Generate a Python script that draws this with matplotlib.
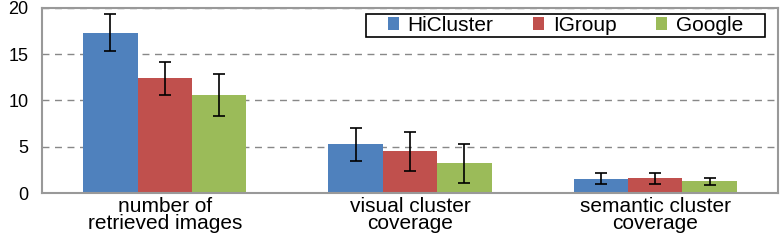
import numpy as np
import matplotlib.pyplot as plt
from matplotlib.patches import Rectangle

plt.rcParams['font.family'] = ['Liberation Sans', 'DejaVu Sans']

categories = ['number of\nretrieved images', 'visual cluster\ncoverage', 'semantic cluster\ncoverage']
series = ['HiCluster', 'IGroup', 'Google']
colors = ['#4F81BD', '#C0504D', '#9BBB59']

hicluster = [17.3, 5.25, 1.55]
igroup = [12.4, 4.5, 1.6]
google = [10.6, 3.2, 1.25]
hicluster_err = [2.0, 1.8, 0.6]
igroup_err = [1.8, 2.1, 0.6]
google_err = [2.3, 2.15, 0.35]

values = [hicluster, igroup, google]
errors = [hicluster_err, igroup_err, google_err]

fig = plt.figure(figsize=(7.81, 2.41), dpi=100)
ax = fig.add_axes([0.054, 0.199, 0.942, 0.768])

x = np.arange(len(categories))
w = 0.222
for i in range(3):
    ax.bar(x + (i - 1) * w, values[i], w, color=colors[i], label=series[i], zorder=2)
    ax.errorbar(x + (i - 1) * w, values[i], yerr=errors[i], fmt='none',
                ecolor='black', elinewidth=1.2, capsize=4, capthick=1.2, zorder=3)

ax.set_xlim(-0.5, 2.5)
ax.set_ylim(0, 20)
ax.set_yticks([0, 5, 10, 15, 20])
ax.yaxis.grid(True, linestyle=(0, (5, 4)), color='#888888', linewidth=1, zorder=0)
ax.set_xticks(x)
ax.set_xticklabels(categories, fontsize=15, linespacing=0.85)
ax.tick_params(axis='y', labelsize=13, length=0, pad=10)
ax.tick_params(axis='x', length=0, pad=3)
for s in ax.spines.values():
    s.set_color('#999999')
    s.set_linewidth(1.5)

# legend box (frame drawn separately so the entries sit centred with side padding)
ax.add_patch(Rectangle((0.44, 0.843), 0.542, 0.125, transform=ax.transAxes,
                       facecolor='white', edgecolor='black', linewidth=1.2, zorder=4))
leg = ax.legend(ncol=3, loc='center', bbox_to_anchor=(0.711, 0.905), fontsize=15,
                frameon=False, handlelength=0.55, handleheight=0.55,
                handletextpad=0.4, columnspacing=1.9, borderpad=0)
leg.set_zorder(5)

fig.savefig('out.png', dpi=100)
